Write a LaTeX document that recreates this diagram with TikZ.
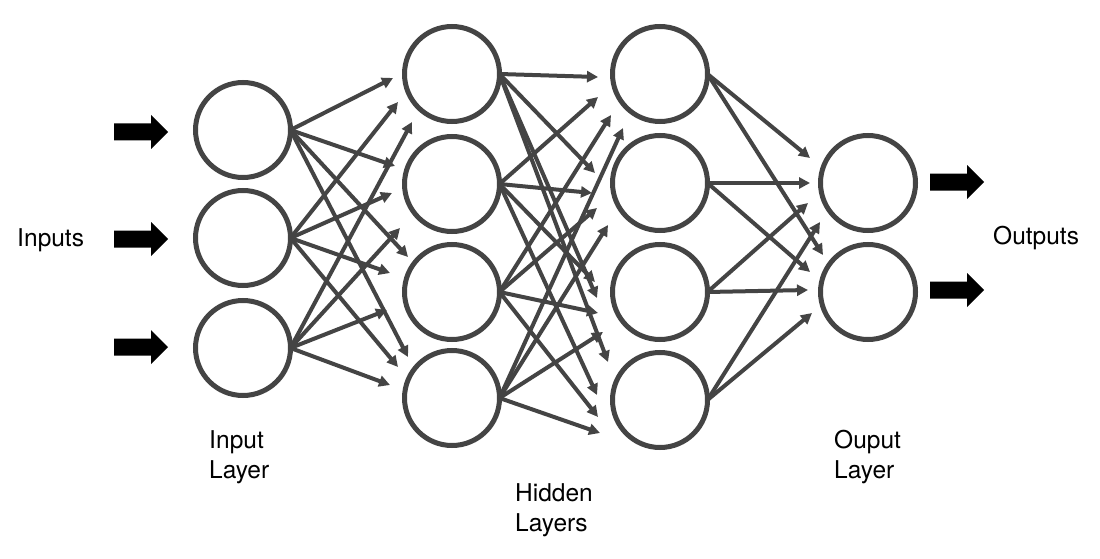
\documentclass[tikz,border=0pt]{standalone}
\usepackage{fontspec}
\setmainfont{TeX Gyre Heros}
\usetikzlibrary{arrows.meta}
\definecolor{netgray}{HTML}{444444}
\begin{document}
\begin{tikzpicture}[x=1pt,y=-1pt,
  neuron/.style={circle, draw=netgray, line width=5pt, minimum size=95pt, inner sep=0pt, outer sep=0pt},
  conn/.style={draw=netgray, line width=4pt, -{Triangle[length=11pt,width=11pt]}},
  lbl/.style={font=\fontsize{24.5}{30}\selectfont, align=left, inner sep=0pt, anchor=base west},
  blockarrow/.pic={\fill[black] (0,-8.5) -- (37,-8.5) -- (37,-17) -- (54,0) -- (37,17) -- (37,8.5) -- (0,8.5) -- cycle;}
]
\useasboundingbox[fill=white] (0,0) rectangle (1100,559);

% neurons
\node[neuron] (i1) at (243,130) {};
\node[neuron] (i2) at (243,238) {};
\node[neuron] (i3) at (243,348) {};
\node[neuron] (a1) at (452,74) {};
\node[neuron] (a2) at (452,184) {};
\node[neuron] (a3) at (452,292) {};
\node[neuron] (a4) at (452,398) {};
\node[neuron] (b1) at (660,74) {};
\node[neuron] (b2) at (660,183) {};
\node[neuron] (b3) at (660,292) {};
\node[neuron] (b4) at (660,400) {};
\node[neuron] (o1) at (868,183) {};
\node[neuron] (o2) at (868,292) {};

% connectors
\foreach \s/\t/\ex/\ey in {
  i1/a1/393/78, i1/a2/395/166, i1/a3/408/257, i1/a4/408/357,
  i2/a1/398/102, i2/a2/392/193, i2/a3/390/273, i2/a4/398/367,
  i3/a1/412/122, i3/a2/400/228, i3/a3/387/310, i3/a4/390/385,
  a1/b1/598/77, a1/b2/595/173, a1/b3/597/298, a1/b4/608/362,
  a2/b1/598/97, a2/b2/592/193, a2/b3/595/282, a2/b4/597/395,
  a3/b1/611/115, a3/b2/597/208, a3/b3/598/313, a3/b4/598/417,
  a4/b1/623/128, a4/b2/608/225, a4/b3/603/332, a4/b4/600/433,
  b1/o1/810/158, b1/o2/823/255,
  b2/o1/810/183, b2/o2/810/272,
  b3/o1/808/203, b3/o2/808/290,
  b4/o1/820/222, b4/o2/812/313}
{
  \coordinate (\s-\t) at (\ex,\ey);
  \draw[conn] (\s.east) -- (\s-\t);
}

% block arrows
\pic at (114,132) {blockarrow};
\pic at (114,239) {blockarrow};
\pic at (114,347) {blockarrow};
\pic at (930,182) {blockarrow};
\pic at (930,290) {blockarrow};

% labels
\node[lbl] (tin) at (17,246) {Inputs};
\node[lbl] (tout) at (993,244) {Outputs};
\node[lbl] (til) at (209,478) {Input\\Layer};
\node[lbl] (thl) at (515,531) {Hidden\\Layers};
\node[lbl] (tol) at (834,478) {Ouput\\Layer};
\end{tikzpicture}
\end{document}
